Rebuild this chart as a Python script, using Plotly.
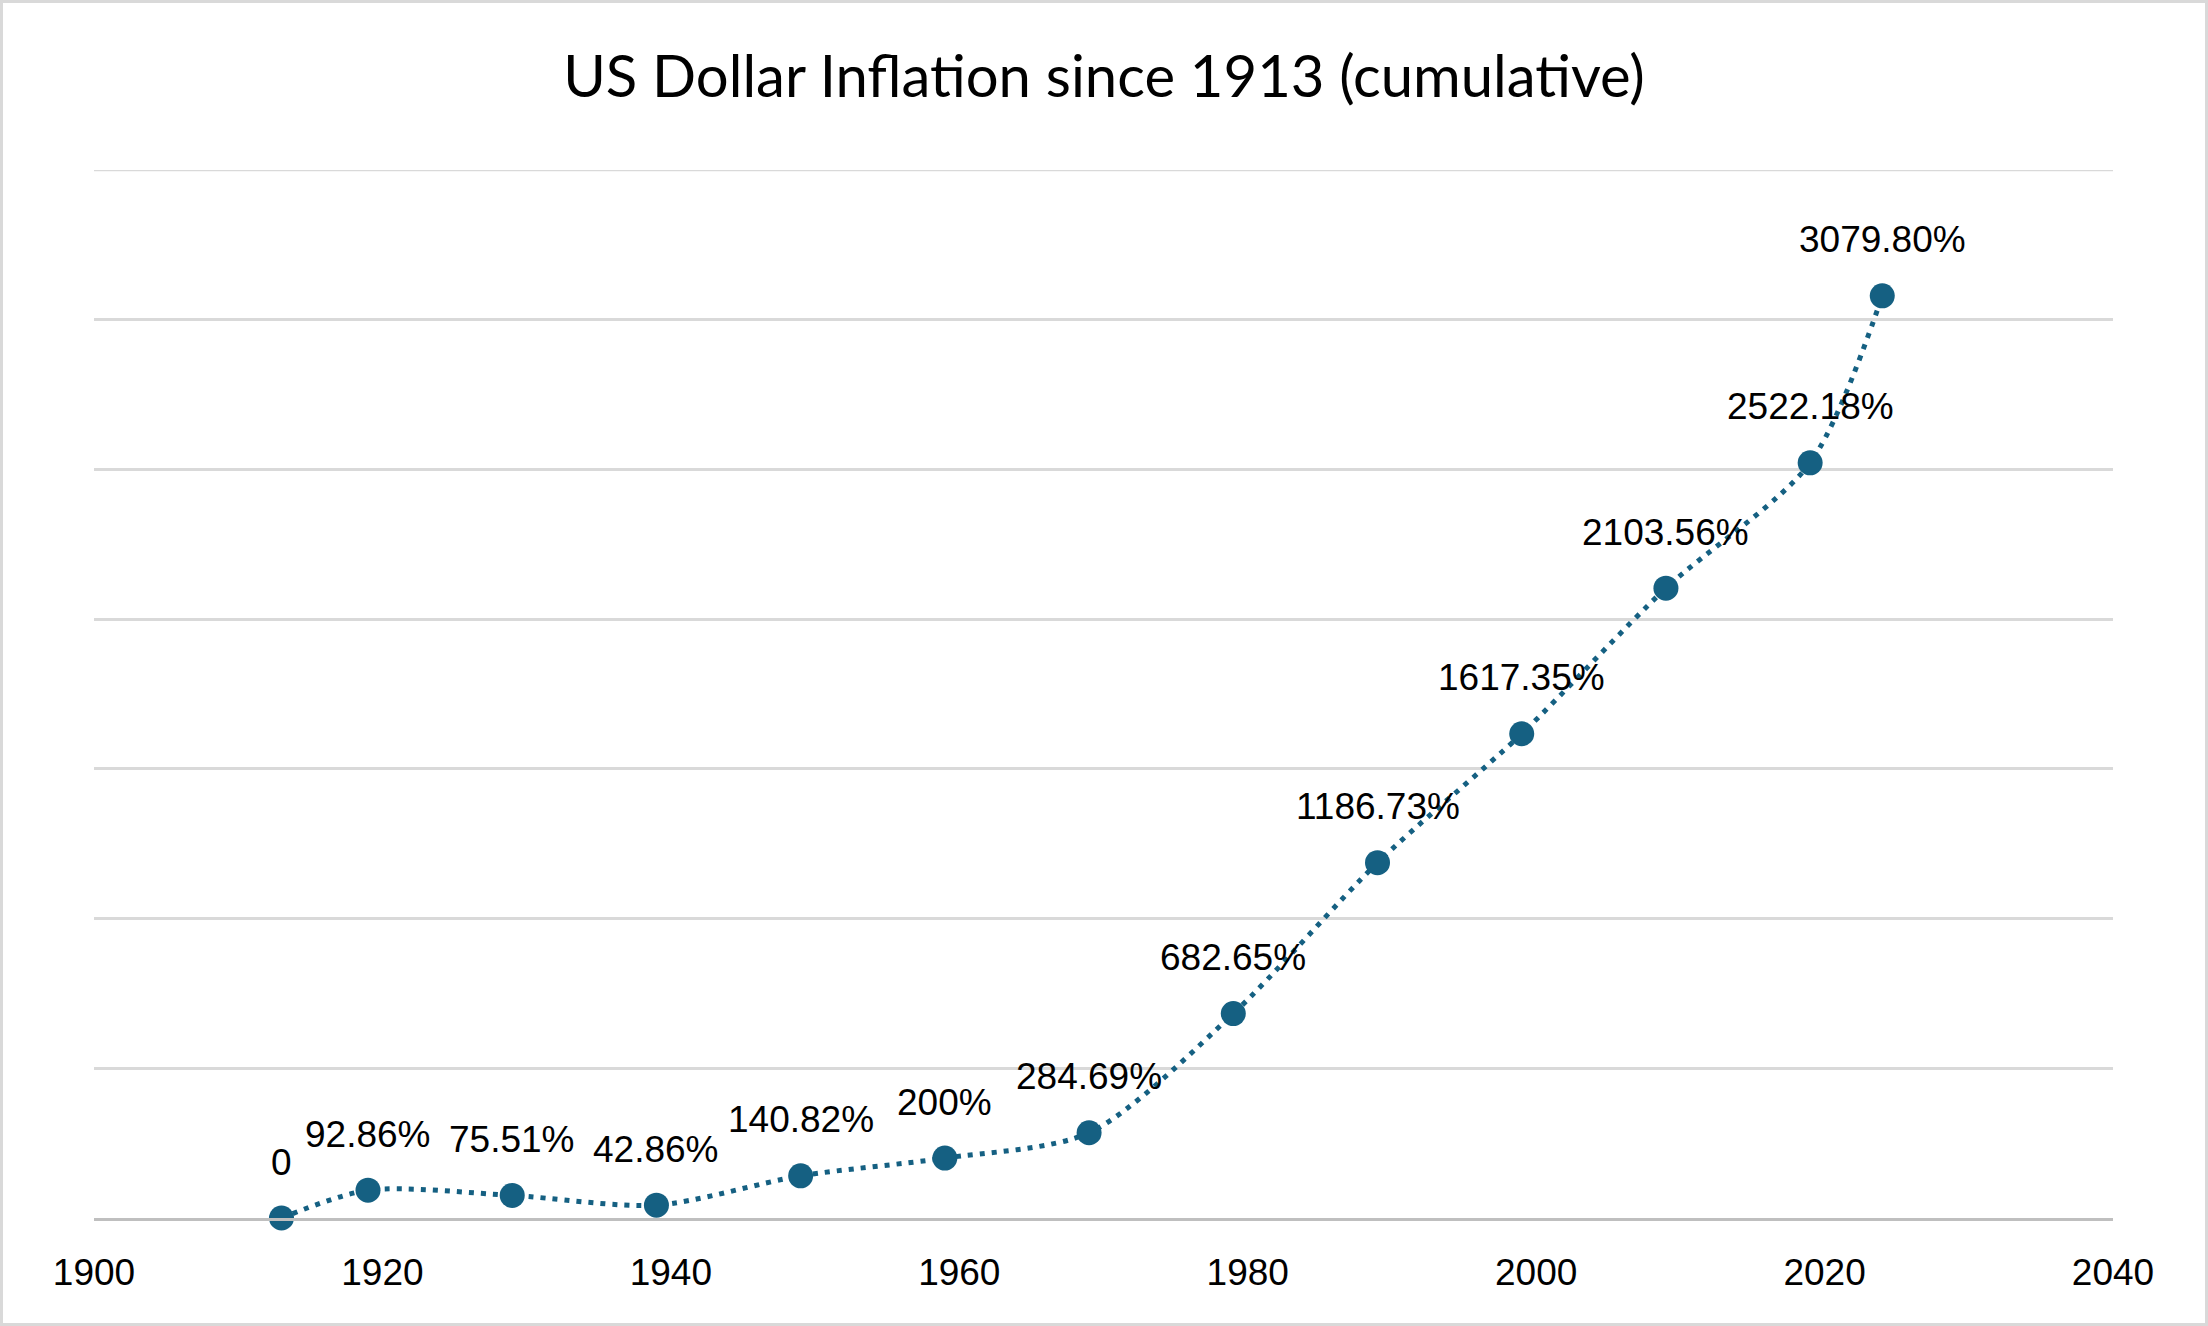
import plotly.graph_objects as go

years = [1913, 1919, 1929, 1939, 1949, 1959, 1969, 1979, 1989, 1999, 2009, 2019, 2024]
inflation = [0, 92.86, 75.51, 42.86, 140.82, 200, 284.69, 682.65, 1186.73, 1617.35, 2103.56, 2522.18, 3079.80]
labels = ["0", "92.86%", "75.51%", "42.86%", "140.82%", "200%", "284.69%", "682.65%",
          "1186.73%", "1617.35%", "2103.56%", "2522.18%", "3079.80%"]
x_ticks = [1900, 1920, 1940, 1960, 1980, 2000, 2020, 2040]
y_max = 3500
y_step = 500

W, H = 2208, 1326
ML, MR, MT, MB = 94, 95, 170, 108
color = "#156082"

fig = go.Figure()
fig.add_trace(go.Scatter(
    x=years, y=inflation, mode="lines+markers",
    line=dict(color=color, width=5, dash="5px,7px", shape="spline", smoothing=0.8),
    marker=dict(color=color, size=25),
    cliponaxis=False, hoverinfo="skip", showlegend=False,
))

for xv, yv, t in zip(years, inflation, labels):
    fig.add_annotation(x=xv, y=yv, text=t, showarrow=False, yshift=56,
                       xanchor="center", yanchor="middle",
                       font=dict(family="Liberation Sans, Arial", size=37, color="#000000"))

pw = W - ML - MR
ph = H - MT - MB
fig.add_shape(type="rect", xref="paper", yref="paper",
              x0=-(ML - 1.5) / pw, x1=1 + (MR - 1.5) / pw,
              y0=-(MB - 1.5) / ph, y1=1 + (MT - 1.5) / ph,
              line=dict(color="#d9d9d9", width=3), fillcolor="rgba(0,0,0,0)", layer="below")
# top gridline at the edge of the value range
fig.add_shape(type="line", xref="paper", yref="y", x0=0, x1=1, y0=y_max, y1=y_max,
              line=dict(color="#d9d9d9", width=2.5), layer="below")

fig.update_layout(
    width=W, height=H,
    margin=dict(l=ML, r=MR, t=MT, b=MB, pad=0),
    paper_bgcolor="white", plot_bgcolor="white",
    title=dict(text="US Dollar Inflation since 1913 (cumulative)",
               x=0.5, xanchor="center", y=1 - 77 / H, yanchor="middle", yref="container",
               font=dict(family="Lato, Liberation Sans", size=58, color="#000000")),
    xaxis=dict(range=[1900, 2040], tickvals=x_ticks, showgrid=False, zeroline=False,
               showline=True, linecolor="#bfbfbf", linewidth=3,
               ticks="", ticklabelstandoff=20,
               tickfont=dict(family="Liberation Sans, Arial", size=37, color="#000000")),
    yaxis=dict(range=[0, y_max], dtick=y_step,
               showgrid=True, gridcolor="#d9d9d9", gridwidth=2.5,
               showticklabels=False, zeroline=False, showline=False, ticks=""),
)

fig.write_html("out.html", config={"displayModeBar": False},
               post_script="document.body.style.margin='0';document.body.style.overflow='hidden';")
